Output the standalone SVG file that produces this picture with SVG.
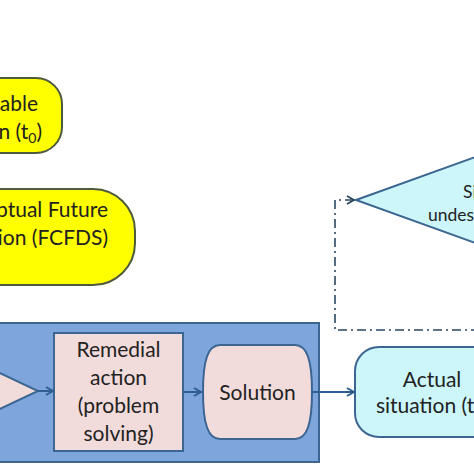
<svg xmlns="http://www.w3.org/2000/svg" width="474" height="474" viewBox="0 0 474 474">
<defs>
<style>
.t{font-family:Lato,"Liberation Sans",sans-serif;font-size:21px;fill:#222;}
.ts{font-family:Lato,"Liberation Sans",sans-serif;font-size:17.5px;fill:#222;}
.yel{fill:#FFFF00;stroke:#4E5B3C;stroke-width:2;}
.pink{fill:#F2DCDB;stroke:#3C6591;stroke-width:2;}
.cyan{fill:#CCF6FA;stroke:#3C6591;stroke-width:2;}
.conn{fill:none;stroke:#2F5F92;stroke-width:2;}
.dd{fill:none;stroke:#2B4660;stroke-width:1.6;stroke-dasharray:9 4 2 4;}
</style>
<marker id="arr" markerWidth="10" markerHeight="10" refX="8" refY="5" orient="auto" markerUnits="userSpaceOnUse">
<path d="M1,1 L8,5 L1,9" fill="none" stroke="#2F5F92" stroke-width="2"/>
</marker>
<marker id="arr2" markerWidth="10" markerHeight="10" refX="8" refY="5" orient="auto" markerUnits="userSpaceOnUse">
<path d="M1,1 L8,5 L1,9" fill="none" stroke="#2B4660" stroke-width="1.8"/>
</marker>
</defs>
<rect width="474" height="474" fill="#FFFFFF"/>

<g id="acceptable">
<rect class="yel" x="-100" y="78" width="162" height="75" rx="26"/>
<text class="t" x="38" y="111" text-anchor="end">Acceptable</text>
<text class="t" x="42" y="139" text-anchor="end">situation (t<tspan font-size="14" dy="4">0</tspan><tspan dy="-4">)</tspan></text>
</g>

<g id="fcfds">
<rect class="yel" x="-150" y="189" width="285" height="96" rx="42"/>
<text class="t" x="108" y="217" text-anchor="end">Conceptual Future</text>
<text class="t" x="108" y="245" text-anchor="end">Desirable Situation (FCFDS)</text>
</g>

<g id="process">
<rect x="-10" y="323" width="329" height="139" fill="#7EA6DD" stroke="#3C6591" stroke-width="2"/>
</g>

<g id="problem">
<polygon class="pink" points="-60,345 38,391 -60,437"/>
</g>

<g id="remedial">
<rect class="pink" x="54" y="333" width="129" height="118"/>
<text class="t" x="118.5" y="357" text-anchor="middle">Remedial</text>
<text class="t" x="118.5" y="385" text-anchor="middle">action</text>
<text class="t" x="118.5" y="413" text-anchor="middle">(problem</text>
<text class="t" x="118.5" y="441" text-anchor="middle">solving)</text>
</g>

<g id="solution">
<path class="pink" d="M220,345 H295 C307,345 312,360 312,392 C312,424 307,439 295,439 H220 C208,439 203,424 203,392 C203,360 208,345 220,345 Z"/>
<text class="t" x="257.5" y="400" text-anchor="middle">Solution</text>
</g>

<g id="actual">
<rect class="cyan" x="355" y="347" width="200" height="90" rx="24"/>
<text class="t" x="432" y="387" text-anchor="middle">Actual</text>
<text class="t" x="432" y="413" text-anchor="middle">situation (t<tspan font-size="14" dy="4">1</tspan><tspan dy="-4">)</tspan></text>
</g>

<g id="undesirable">
<polygon class="cyan" points="356,200 620,105 620,295"/>
<text class="ts" x="463" y="198">Situation</text>
<text class="ts" x="428" y="221">undesirable</text>
</g>

<g id="connectors">
<line class="conn" x1="38" y1="391" x2="53" y2="391" marker-end="url(#arr)"/>
<line class="conn" x1="183" y1="392" x2="201" y2="392" marker-end="url(#arr)"/>
<line class="conn" x1="312" y1="392" x2="354" y2="392" marker-end="url(#arr)"/>
<polyline class="dd" points="480,330 335,330 335,200 354,200" marker-end="url(#arr2)"/>
</g>
</svg>
